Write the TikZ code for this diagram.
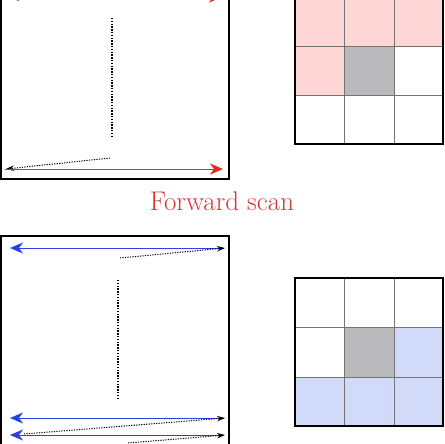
\documentclass[tikz,border=0pt]{standalone}
\usetikzlibrary{arrows.meta}
\definecolor{scanred}{RGB}{232,38,38}
\definecolor{txtred}{RGB}{215,55,55}
\definecolor{scanblue}{RGB}{40,65,225}
\definecolor{cellpink}{RGB}{255,214,214}
\definecolor{cellblue}{RGB}{210,218,250}
\definecolor{cellgray}{RGB}{186,186,188}
\tikzset{
  frame/.style={draw=black, line width=2pt},
  fwd/.style={draw=scanred, line width=0.8pt, -{Stealth[length=13pt,width=11pt,inset=4pt]}},
  bwd/.style={draw=scanblue, line width=0.8pt, -{Stealth[length=13pt,width=11pt,inset=4pt]}},
  retrace/.style={draw=black, line width=1pt, dash pattern=on 1.2pt off 1.3pt, -{Stealth[length=8pt,width=5.5pt]}},
  ellip/.style={draw=black, line width=1.4pt, dash pattern=on 1.4pt off 1.4pt},
  gridline/.style={draw=black!55, line width=0.8pt},
  gridframe/.style={draw=black, line width=1.4pt},
}
\begin{document}
\begin{tikzpicture}[x=1pt,y=-1pt]
\useasboundingbox (0,0) rectangle (444,444);
\begin{scope}
\clip (0,0) rectangle (444,444);
% ---------- top (forward) box ----------
\draw[frame] (1,-20) rectangle (229,179);
\coordinate (t0a) at (110,-14); \coordinate (t0b) at (11,-1);
\draw[retrace] (t0a) -- (t0b);
\coordinate (r0a) at (5,-3); \coordinate (r0b) at (222,-3);
\draw[fwd] (r0a) -- (r0b);
\coordinate (e1a) at (112,18); \coordinate (e1b) at (112,137);
\draw[ellip] (e1a) -- (e1b);
\coordinate (t1a) at (110,158); \coordinate (t1b) at (6,169);
\draw[retrace] (t1a) -- (t1b);
\coordinate (r1a) at (5,169); \coordinate (r1b) at (223,169);
\draw[fwd] (r1a) -- (r1b);
% ---------- top grid ----------
\fill[cellpink] (295,-3) rectangle (443,46);
\fill[cellpink] (295,46) rectangle (344.5,95);
\fill[cellgray] (344.5,46) rectangle (394,95);
\draw[gridline] (344.5,-3) -- (344.5,144) (394,-3) -- (394,144)
  (295,46) -- (443,46) (295,95) -- (443,95);
\draw[gridframe] (295,-3) rectangle (443,144);
% ---------- label ----------
\node[text=txtred, font=\fontsize{27}{32}\selectfont, inner sep=0pt] (lbl) at (222,201) {Forward scan};
% ---------- bottom (backward) box ----------
\draw[frame] (1,236) rectangle (229,464);
\coordinate (b1a) at (224,248); \coordinate (b1b) at (10,248);
\draw[bwd] (b1a) -- (b1b);
\coordinate (u1a) at (120,258); \coordinate (u1b) at (225,248);
\draw[retrace] (u1a) -- (u1b);
\coordinate (e2a) at (118,280); \coordinate (e2b) at (118,400);
\draw[ellip] (e2a) -- (e2b);
\coordinate (b2a) at (224,418); \coordinate (b2b) at (10,418);
\draw[bwd] (b2a) -- (b2b);
\coordinate (u2a) at (24,434); \coordinate (u2b) at (225,418);
\draw[retrace] (u2a) -- (u2b);
\coordinate (b3a) at (224,435); \coordinate (b3b) at (10,435);
\draw[bwd] (b3a) -- (b3b);
\coordinate (u3a) at (128,443); \coordinate (u3b) at (225,435);
\draw[retrace] (u3a) -- (u3b);
% ---------- bottom grid ----------
\fill[cellblue] (394,327) rectangle (443,377);
\fill[cellblue] (295,377) rectangle (443,426);
\fill[cellgray] (344.5,327) rectangle (394,377);
\draw[gridline] (344.5,278) -- (344.5,426) (394,278) -- (394,426)
  (295,327) -- (443,327) (295,377) -- (443,377);
\draw[gridframe] (295,278) rectangle (443,426);
\end{scope}
\end{tikzpicture}
\end{document}
